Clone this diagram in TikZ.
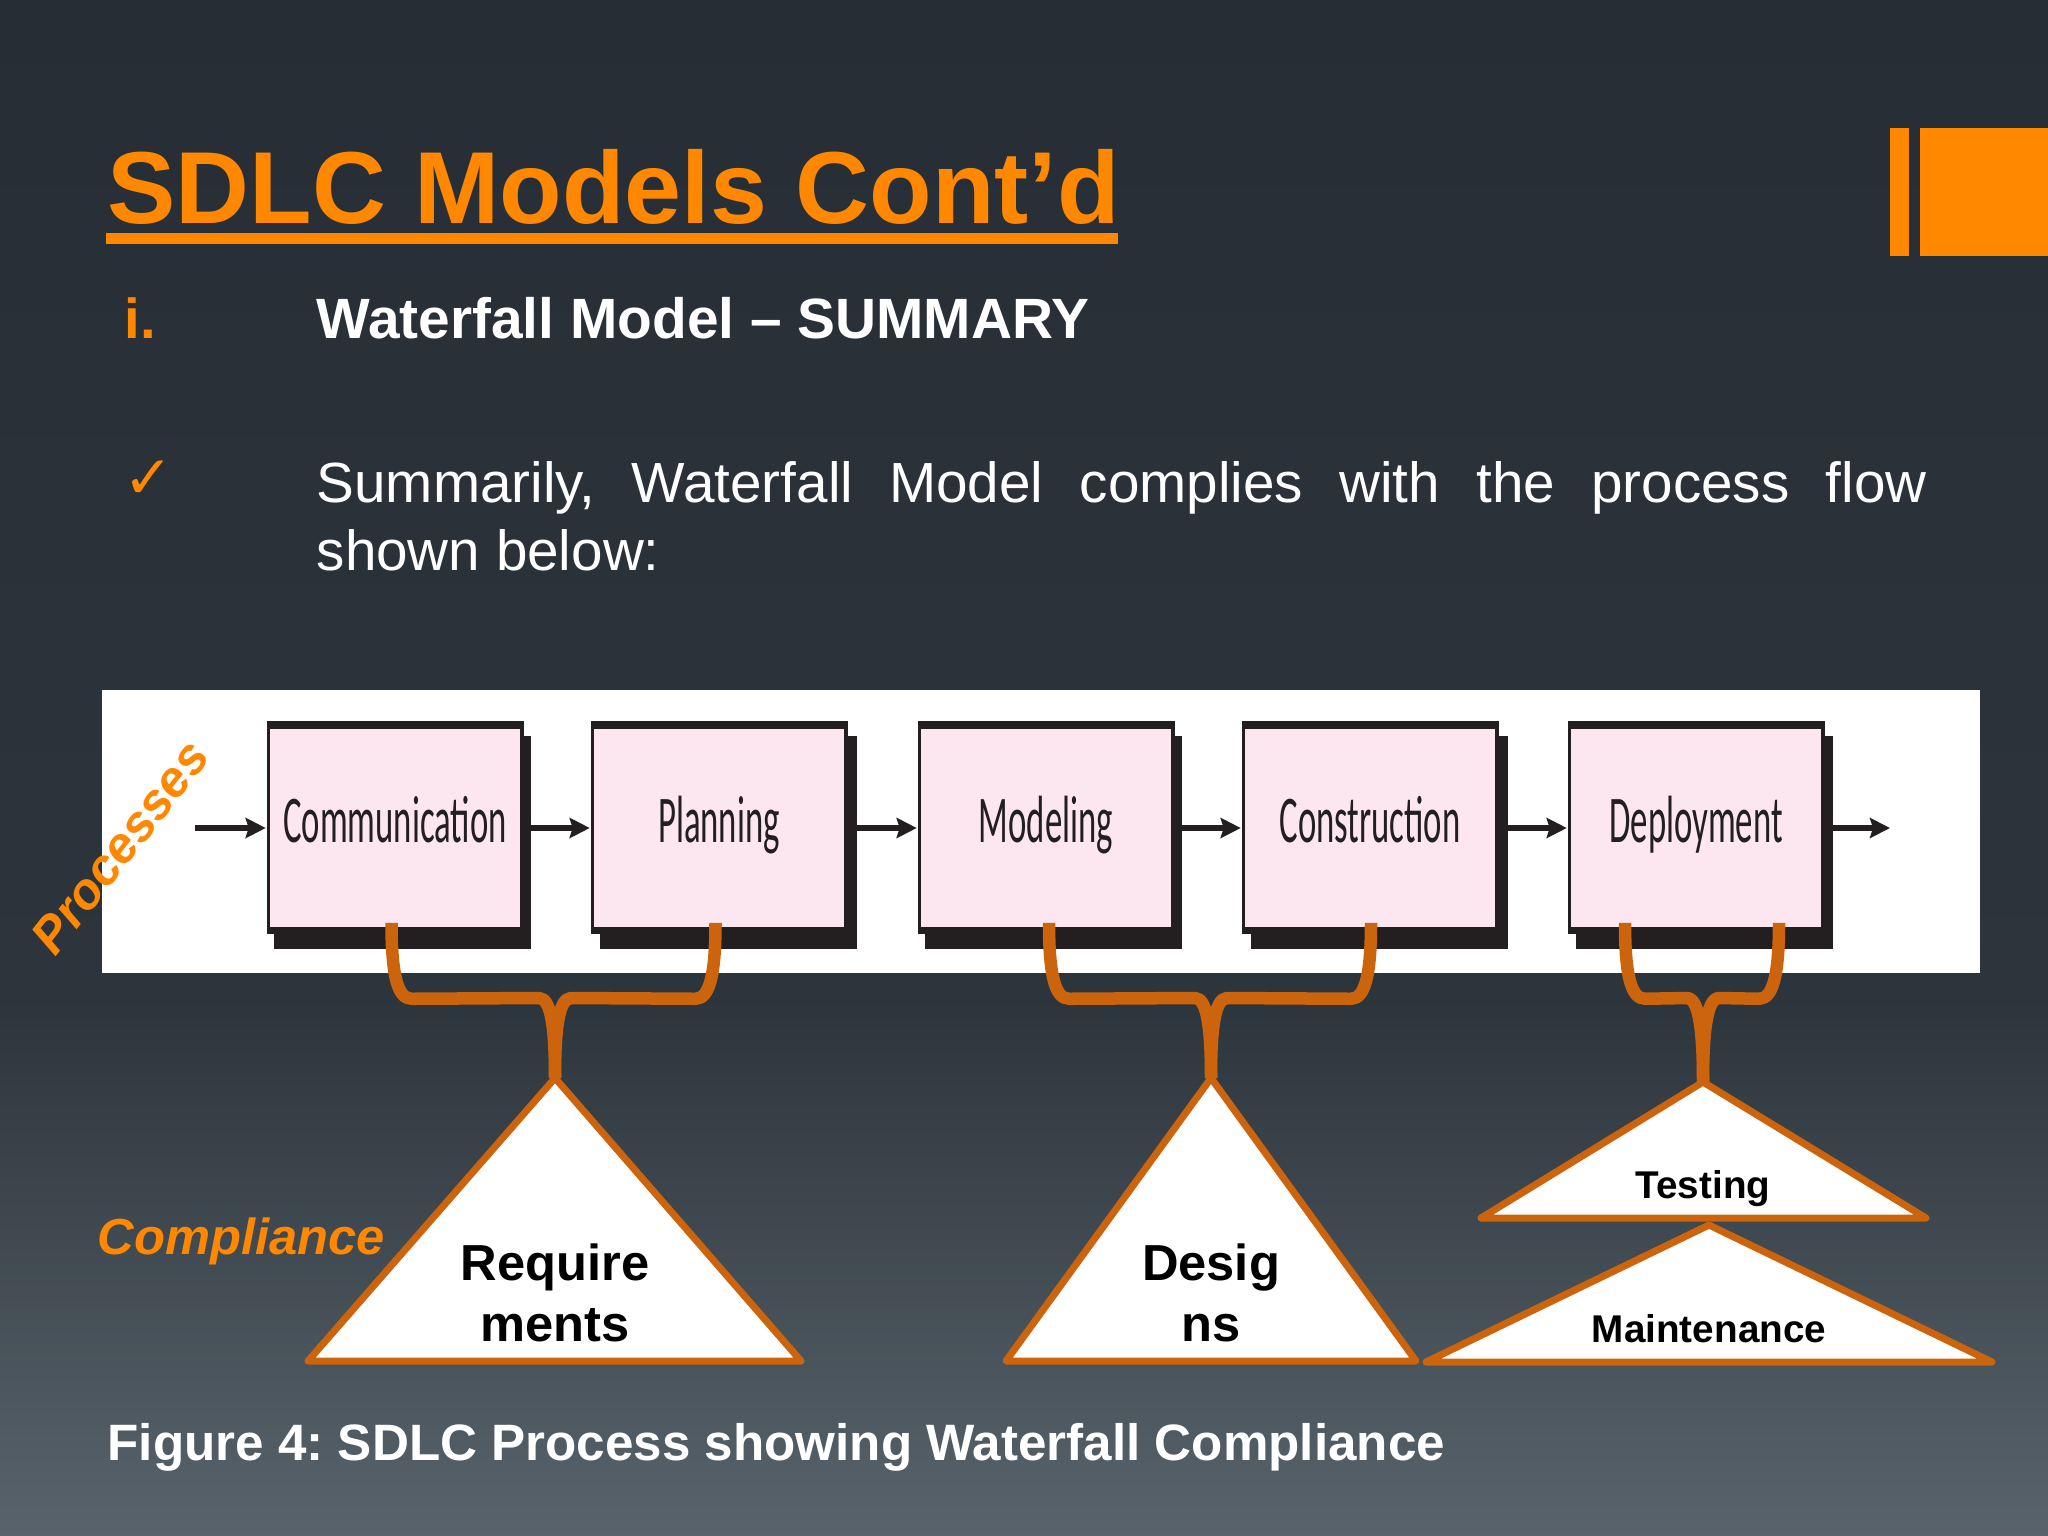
\documentclass[tikz,border=0pt]{standalone}
\usepackage{fontspec}
\usepackage{graphicx}
\setmainfont{Liberation Sans}
\newfontfamily\boxfont{Carlito}
\newfontfamily\tickfont{DejaVu Sans}
\usetikzlibrary{arrows.meta, calc}
\definecolor{sdlcorange}{HTML}{FF8800}
\definecolor{sdlcrust}{HTML}{CC640E}
\definecolor{sdlcink}{HTML}{231F20}
\definecolor{sdlcpink}{HTML}{FCE6F0}
\definecolor{bgtop}{HTML}{272D34}
\definecolor{bgmid}{HTML}{2D353C}
\definecolor{bglow}{HTML}{58636B}
\newcommand{\procbox}[4]{%
  \fill[sdlcink] (#2+#4,736) rectangle (#2+257+#4,949);
  \fill[sdlcink] (#2,721) rectangle (#2+257,934);
  \node[stagebox] (#1) at (#2+128,828) {\scalebox{0.52}[1]{#3}};
}
\begin{document}
\frenchspacing
\begin{tikzpicture}[
  x=0.01cm, y=-0.01cm,
  stagebox/.style={rectangle, fill=sdlcpink, minimum width=2.49cm, minimum height=1.98cm, inner sep=0pt, text height=0.5cm, text depth=0.22cm, font=\boxfont\fontsize{19}{22}\selectfont, text=sdlcink},
  flow/.style={-{Stealth[length=0.2cm, width=0.2cm, inset=0.03cm]}, sdlcink, line width=1.6pt},
  bracearm/.style={sdlcrust, line width=0.125cm, line join=round},
  tribox/.style={draw=sdlcrust, fill=white, line width=0.07cm, line join=round},
  trilabel/.style={font=\bfseries\fontsize{14.4}{17.4}\selectfont, align=center, text=black, inner sep=0pt},
  smalllabel/.style={font=\bfseries\fontsize{11}{13}\selectfont, text=black, inner sep=0pt},
  sidelabel/.style={font=\bfseries\itshape\fontsize{14.4}{17}\selectfont, text=sdlcorange, inner sep=0pt},
]
\useasboundingbox (0,0) rectangle (2048,1536);
% slide background
\shade[top color=bgtop, bottom color=bgmid] (0,0) rectangle (2048,1000);
\shade[top color=bgmid, bottom color=bglow] (0,1000) rectangle (2048,1536);
\fill[sdlcorange] (1890,128) rectangle (1909,256);
\fill[sdlcorange] (1920,128) rectangle (2048,256);

% heading
\node[anchor=base west, inner sep=0pt, text=sdlcorange, font=\bfseries\fontsize{29.1}{34}\selectfont] (title) at (107,223) {SDLC Models Cont’d};
\fill[sdlcorange] (106,233) rectangle (1118,244);
\node[anchor=base west, inner sep=0pt, text=sdlcorange, font=\bfseries\fontsize{16}{19}\selectfont] (item) at (124,338) {i.};
\node[anchor=base west, inner sep=0pt, text=white, font=\bfseries\fontsize{16.16}{19}\selectfont] (head) at (316,338) {Waterfall Model – SUMMARY};
\node[anchor=base west, inner sep=0pt, text=sdlcorange, font=\tickfont\fontsize{17}{19}\selectfont] (tick) at (123,498) {✓};
\node[anchor=north west, inner sep=0pt, text=white, text width=16.09cm, align=justify, font=\fontsize{16.1}{19.3}\selectfont] (body) at (316,461) {Summarily, Waterfall Model complies with the process flow\linebreak shown below:};

% process strip
\fill[white] (102,690) rectangle (1980,973);
\procbox{comm}{267}{Communication}{7}
\procbox{plan}{591}{Planning}{9}
\procbox{model}{918}{Modeling}{7}
\procbox{constr}{1242}{Construction}{9}
\procbox{deploy}{1568}{Deployment}{8}

\coordinate (flowin) at (195,828);
\coordinate (flowout) at (1890,828);
\draw[flow, shorten >=0.04cm] (flowin) -- (comm);
\draw[flow, shorten <=0.11cm, shorten >=0.04cm] (comm) -- (plan);
\draw[flow, shorten <=0.11cm, shorten >=0.04cm] (plan) -- (model);
\draw[flow, shorten <=0.11cm, shorten >=0.04cm] (model) -- (constr);
\draw[flow, shorten <=0.11cm, shorten >=0.04cm] (constr) -- (deploy);
\draw[flow, shorten <=0.12cm] (deploy) -- (flowout);

% compliance triangles
\coordinate (reqtop) at (555,1078);
\coordinate (destop) at (1211,1078);
\coordinate (testtop) at (1703,1082);
\coordinate (maintop) at (1709,1225);
\draw[tribox] (reqtop) -- (308,1361) -- (801,1361) -- cycle;
\draw[tribox] (destop) -- (1006,1361) -- (1416,1361) -- cycle;
\draw[tribox] (testtop) -- (1481,1218) -- (1926,1218) -- cycle;
\draw[tribox] (maintop) -- (1426,1362) -- (1992,1362) -- cycle;
\node[trilabel, anchor=base] (reqlabel) at (555,1280) {Require};
\node[trilabel, anchor=base] (reqlabelb) at (555,1341) {ments};
\node[trilabel, anchor=base] (deslabel) at (1211,1280) {Desig};
\node[trilabel, anchor=base] (deslabelb) at (1211,1341) {ns};
\node[smalllabel, anchor=base] (testlabel) at (1703,1198) {Testing};
\node[smalllabel, anchor=base] (mainlabel) at (1709,1342) {Maintenance};

% braces
\draw[bracearm] ([shift={(-3.5,-5)}]comm.south) .. controls +(0,52) and +(-14,0) .. ++(20,76) -- ($(reqtop)+(-16,-80)$) .. controls +(13,0) and +(0,-45) .. (reqtop);
\draw[bracearm] ([shift={(-3.5,-5)}]plan.south) .. controls +(0,52) and +(14,0) .. ++(-20,76) -- ($(reqtop)+(16,-80)$) .. controls +(-13,0) and +(0,-45) .. (reqtop);
\draw[bracearm] ([shift={(3,-5)}]model.south) .. controls +(0,52) and +(-14,0) .. ++(20,76) -- ($(destop)+(-16,-80)$) .. controls +(13,0) and +(0,-45) .. (destop);
\draw[bracearm] ([shift={(1,-5)}]constr.south) .. controls +(0,52) and +(14,0) .. ++(-20,76) -- ($(destop)+(16,-80)$) .. controls +(-13,0) and +(0,-45) .. (destop);
\draw[bracearm] ([shift={(-71,-5)}]deploy.south) .. controls +(0,52) and +(-14,0) .. ++(20,76) -- ($(testtop)+(-16,-84)$) .. controls +(13,0) and +(0,-45) .. (testtop);
\draw[bracearm] ([shift={(83,-5)}]deploy.south) .. controls +(0,52) and +(14,0) .. ++(-20,76) -- ($(testtop)+(16,-84)$) .. controls +(-13,0) and +(0,-45) .. (testtop);

% side labels and caption
\node[sidelabel, rotate=52] (procs) at (120,847) {Processes};
\node[sidelabel, anchor=base west] (compl) at (97,1254) {Compliance};
\node[anchor=base west, inner sep=0pt, text=white, font=\bfseries\fontsize{14.55}{18}\selectfont] (caption) at (107,1460) {Figure 4: SDLC Process showing Waterfall Compliance};
\end{tikzpicture}
\end{document}
